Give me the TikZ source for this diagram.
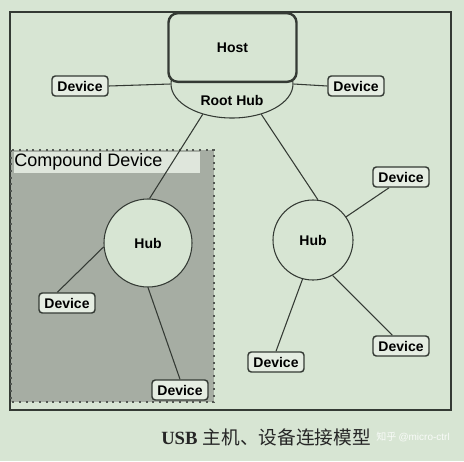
\documentclass[tikz,border=0pt]{standalone}
\usepackage{fontspec}
\setmainfont{Liberation Sans}
\newfontfamily\cjk{Noto Sans CJK SC}
\newfontfamily\capserif{Liberation Serif}
\usetikzlibrary{shapes.geometric}
\definecolor{paper}{RGB}{215,229,211}
\definecolor{ink}{RGB}{52,58,52}
\definecolor{grayarea}{RGB}{166,173,163}
\definecolor{labelstrip}{RGB}{223,230,220}
\definecolor{boxfill}{RGB}{229,237,226}

\begin{document}
\begin{tikzpicture}[x=0.75pt,y=-0.75pt,
    lbl/.style={font=\fontsize{10.5}{12}\selectfont\bfseries},
    dev/.style={lbl,rectangle,rounded corners=2.5pt,draw=ink,line width=1.1pt,fill=boxfill,
        minimum width=42pt,minimum height=15pt,inner sep=1pt},
    hub/.style={lbl,circle,draw=ink,line width=0.8pt,fill=paper,inner sep=0pt}]
\useasboundingbox (0,0) rectangle (464,461);
\fill[paper] (0,0) rectangle (464,461);
\draw[ink,line width=1pt] (10,12) rectangle (451,410);

% compound device area
\fill[grayarea] (11,150) rectangle (214,402);
\fill[labelstrip] (14,152) rectangle (200,173);
\draw[ink!85,line width=0.9pt,dash pattern=on 1.5pt off 3.5pt] (11,150) rectangle (214,402);
\node[anchor=west,inner sep=0pt,font=\fontsize{13.5}{15}\selectfont] (L) at (14,162) {Compound Device};

% host and root hub
\node[ellipse,draw=ink,line width=0.8pt,fill=paper,minimum width=91.5pt,minimum height=51pt,inner sep=0pt] (R) at (232,84) {};
\node[lbl,rectangle,rounded corners=7pt,draw=ink,line width=1.8pt,fill=paper,
      minimum width=96pt,minimum height=51.5pt] (H) at (232.5,47.5) {Host};
\node[lbl] (T) at (232,100) {Root Hub};

\begin{scope}[every node/.style={dev}]
    \node (A) at (80,86) {Device};
    \node (B) at (356,86) {Device};
    \node (E) at (67,303) {Device};
    \node (F) at (180,390) {Device};
    \node (G) at (401,177) {Device};
    \node (I) at (276,362) {Device};
    \node (J) at (401,346) {Device};
\end{scope}

\node[hub,minimum size=66pt] (C) at (148,243) {Hub};
\node[hub,minimum size=60pt] (D) at (313,240) {Hub};

\begin{scope}[every edge/.style={draw=ink,line width=0.8pt}]
    \path (A.east) edge (R.west);
    \path (B.west) edge (R.east);
    \path (R.-134) edge (C.88);
    \path (R.-46) edge (D.83);
    \path (C.185) edge (E.132);
    \path (C.-90) edge (F.north);
    \path (D.35) edge (G.222);
    \path (D.255) edge (I.north);
    \path (D.-61) edge (J.129);
\end{scope}

% caption
\node[font=\fontsize{14}{16}\selectfont,text=black!85] (M) at (266,437) {{\capserif\bfseries USB} \cjk 主机、设备连接模型};
\node[anchor=west,font=\fontsize{7.5}{9}\selectfont,text=white,opacity=0.85,inner sep=0pt] (W) at (376,437) {\cjk 知乎 {\rmfamily @micro-ctrl}};
\end{tikzpicture}
\end{document}
